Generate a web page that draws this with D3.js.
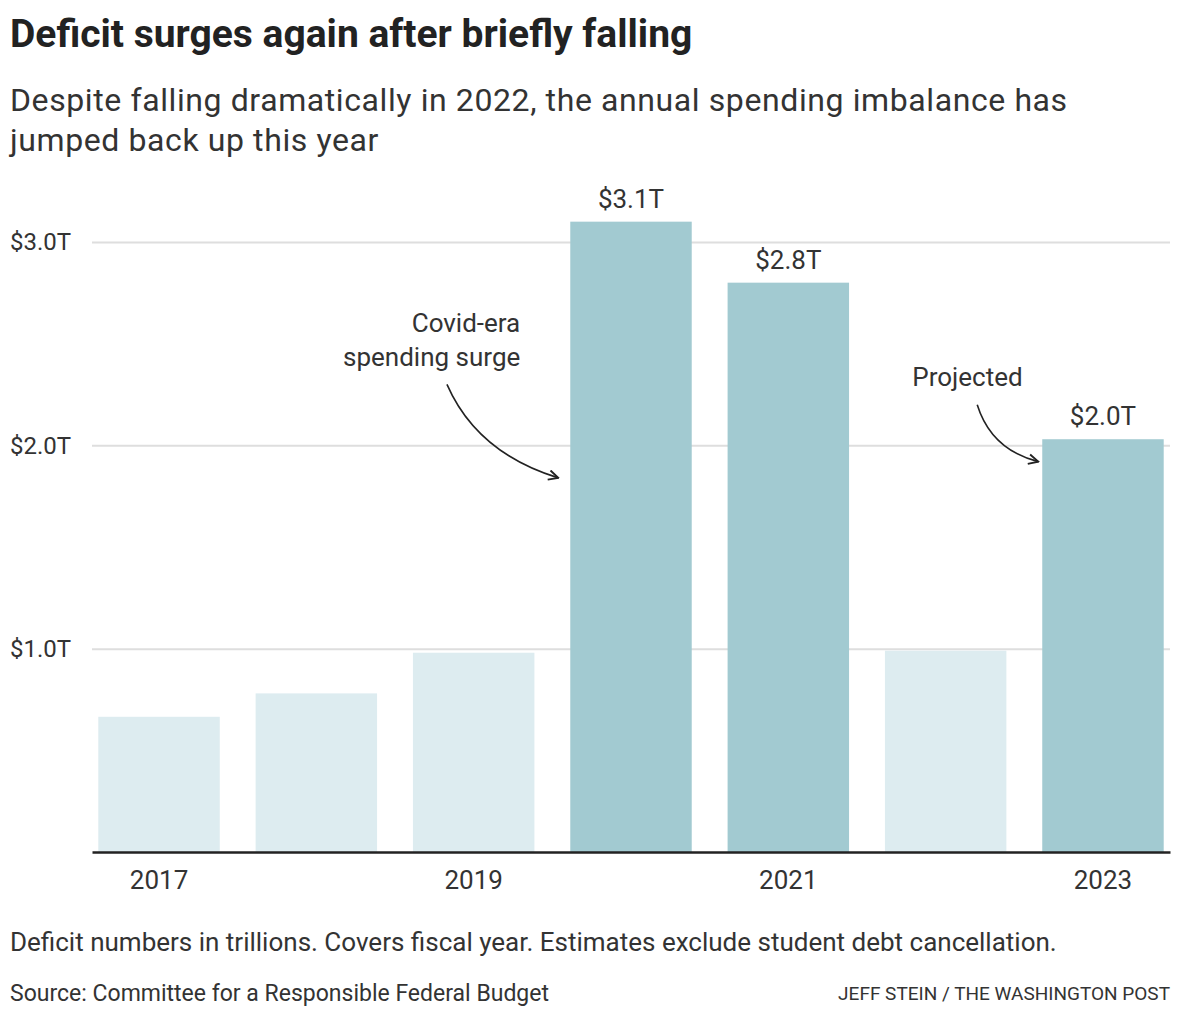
<!DOCTYPE html>
<html>
<head>
<meta charset="utf-8">
<script src="https://cdn.jsdelivr.net/npm/d3@7"></script>
<style>
body{margin:0;background:#fff;}
text{font-family:Roboto,"Noto Sans",sans-serif;fill:#222;}
</style>
</head>
<body>
<svg id="chart" width="1180" height="1020"></svg>
<script>
const years = ["2017","2018","2019","2020","2021","2022","2023"];
const deficits = [0.665, 0.78, 0.98, 3.1, 2.8, 0.99, 2.03];
const highlighted = ["2020","2021","2023"];
const valueLabels = {"2020":"$3.1T","2021":"$2.8T","2023":"$2.0T"};
const yTicks = [1,2,3];
const xTickLabels = ["2017","2019","2021","2023"];

const svg = d3.select("#chart"),
margin = {top:242,right:10,bottom:168,left:92},
width = +svg.attr("width") - margin.left - margin.right,
height = +svg.attr("height") - margin.top - margin.bottom;

// titles
svg.append("text").attr("x",10).attr("y",47)
.style("font-family","'Liberation Sans Narrow',Roboto,sans-serif")
.style("font-weight","bold").style("font-size","39px")
.text("Deficit surges again after briefly falling");

const sub = ["Despite falling dramatically in 2022, the annual spending imbalance has","jumped back up this year"];
sub.forEach((s,i)=>{
    svg.append("text").attr("x",10).attr("y",111+i*40)
    .style("font-size","32px").style("letter-spacing","0.6px")
    .style("fill","#333").text(s);
});

const g = svg.append("g")
.attr("transform",`translate(${margin.left},${margin.top})`);

const x = d3.scaleBand().domain(years).range([0,width]).paddingInner(0.228).paddingOuter(0.04);
const y = d3.scaleLinear().domain([0,3]).range([height,0]);

// grid + y labels
const yAxis = g.append("g")
.call(d3.axisLeft(y).tickValues(yTicks).tickSize(-width).tickFormat(d=>`$${d.toFixed(1)}T`));
yAxis.select(".domain").remove();
yAxis.selectAll(".tick line").attr("stroke","#dedede").attr("stroke-width",2);
yAxis.selectAll(".tick text").attr("x",-82).attr("dy","0.32em")
.style("text-anchor","start").style("font-size","24px").style("fill","#333");

// bars
g.selectAll("rect.bar").data(years).join("rect")
.attr("class","bar")
.attr("x",d=>x(d))
.attr("width",x.bandwidth())
.attr("y",(d,i)=>y(deficits[i]))
.attr("height",(d,i)=>height - y(deficits[i]))
.attr("fill",d=>highlighted.includes(d) ? "#a2cad1" : "#ddecf0");

// value labels
g.selectAll("text.val").data(highlighted).join("text")
.attr("class","val")
.attr("x",d=>x(d)+x.bandwidth()/2)
.attr("y",d=>y(deficits[years.indexOf(d)]) - 14)
.attr("text-anchor","middle")
.style("font-size","26px").style("fill","#333")
.text(d=>valueLabels[d]);

// baseline + x labels
const xAxis = g.append("g").attr("transform",`translate(0,${height})`)
.call(d3.axisBottom(x).tickValues(xTickLabels).tickSize(0).tickPadding(19));
xAxis.select(".domain").attr("stroke","#222").attr("stroke-width",2.5);
xAxis.selectAll(".tick text").style("font-size","26px").style("fill","#333");

// annotations
svg.append("defs").append("marker")
.attr("id","arrow").attr("viewBox","0 0 10 10")
.attr("refX",9).attr("refY",5).attr("markerWidth",12).attr("markerHeight",12)
.attr("markerUnits","userSpaceOnUse").attr("orient","auto")
.append("path").attr("d","M1,1 L9,5 L1,9")
.attr("fill","none").attr("stroke","#222").attr("stroke-width",1.6);

const covid = g.append("g");
["Covid-era","spending surge"].forEach((t,i)=>{
    covid.append("text")
    .attr("x",x("2020") - 50).attr("y",y(2.555) + i*34)
    .attr("text-anchor","end").style("font-size","26px").style("fill","#333").text(t);
});
const covidStart = [x("2019")+x.bandwidth()*0.28, y(2.3)];
const covidEnd = [x("2020")-12, y(1.84)];
covid.append("path")
.attr("d",`M${covidStart[0]},${covidStart[1]} Q${covidStart[0]+30},${covidEnd[1]-25} ${covidEnd[0]},${covidEnd[1]}`)
.attr("fill","none").attr("stroke","#222").attr("stroke-width",1.6)
.attr("marker-end","url(#arrow)");

const proj = g.append("g");
proj.append("text")
.attr("x",x("2022")+x.bandwidth()*0.68).attr("y",y(2.29))
.attr("text-anchor","middle").style("font-size","26px").style("fill","#333").text("Projected");
const projStart = [x("2022")+x.bandwidth()*0.76, y(2.2)];
const projEnd = [x("2023")-4, y(1.92)];
proj.append("path")
.attr("d",`M${projStart[0]},${projStart[1]} Q${projStart[0]+14},${projEnd[1]-12} ${projEnd[0]},${projEnd[1]}`)
.attr("fill","none").attr("stroke","#222").attr("stroke-width",1.6)
.attr("marker-end","url(#arrow)");

// footer
svg.append("text").attr("x",10).attr("y",951)
.style("font-size","26px").style("fill","#333")
.text("Deficit numbers in trillions. Covers fiscal year. Estimates exclude student debt cancellation.");
svg.append("text").attr("x",10).attr("y",1001)
.style("font-size","23px").style("fill","#333")
.text("Source: Committee for a Responsible Federal Budget");
svg.append("text").attr("x",1170).attr("y",1000)
.attr("text-anchor","end").style("font-size","19px").style("fill","#333")
.text("JEFF STEIN / THE WASHINGTON POST");
</script>
</body>
</html>
